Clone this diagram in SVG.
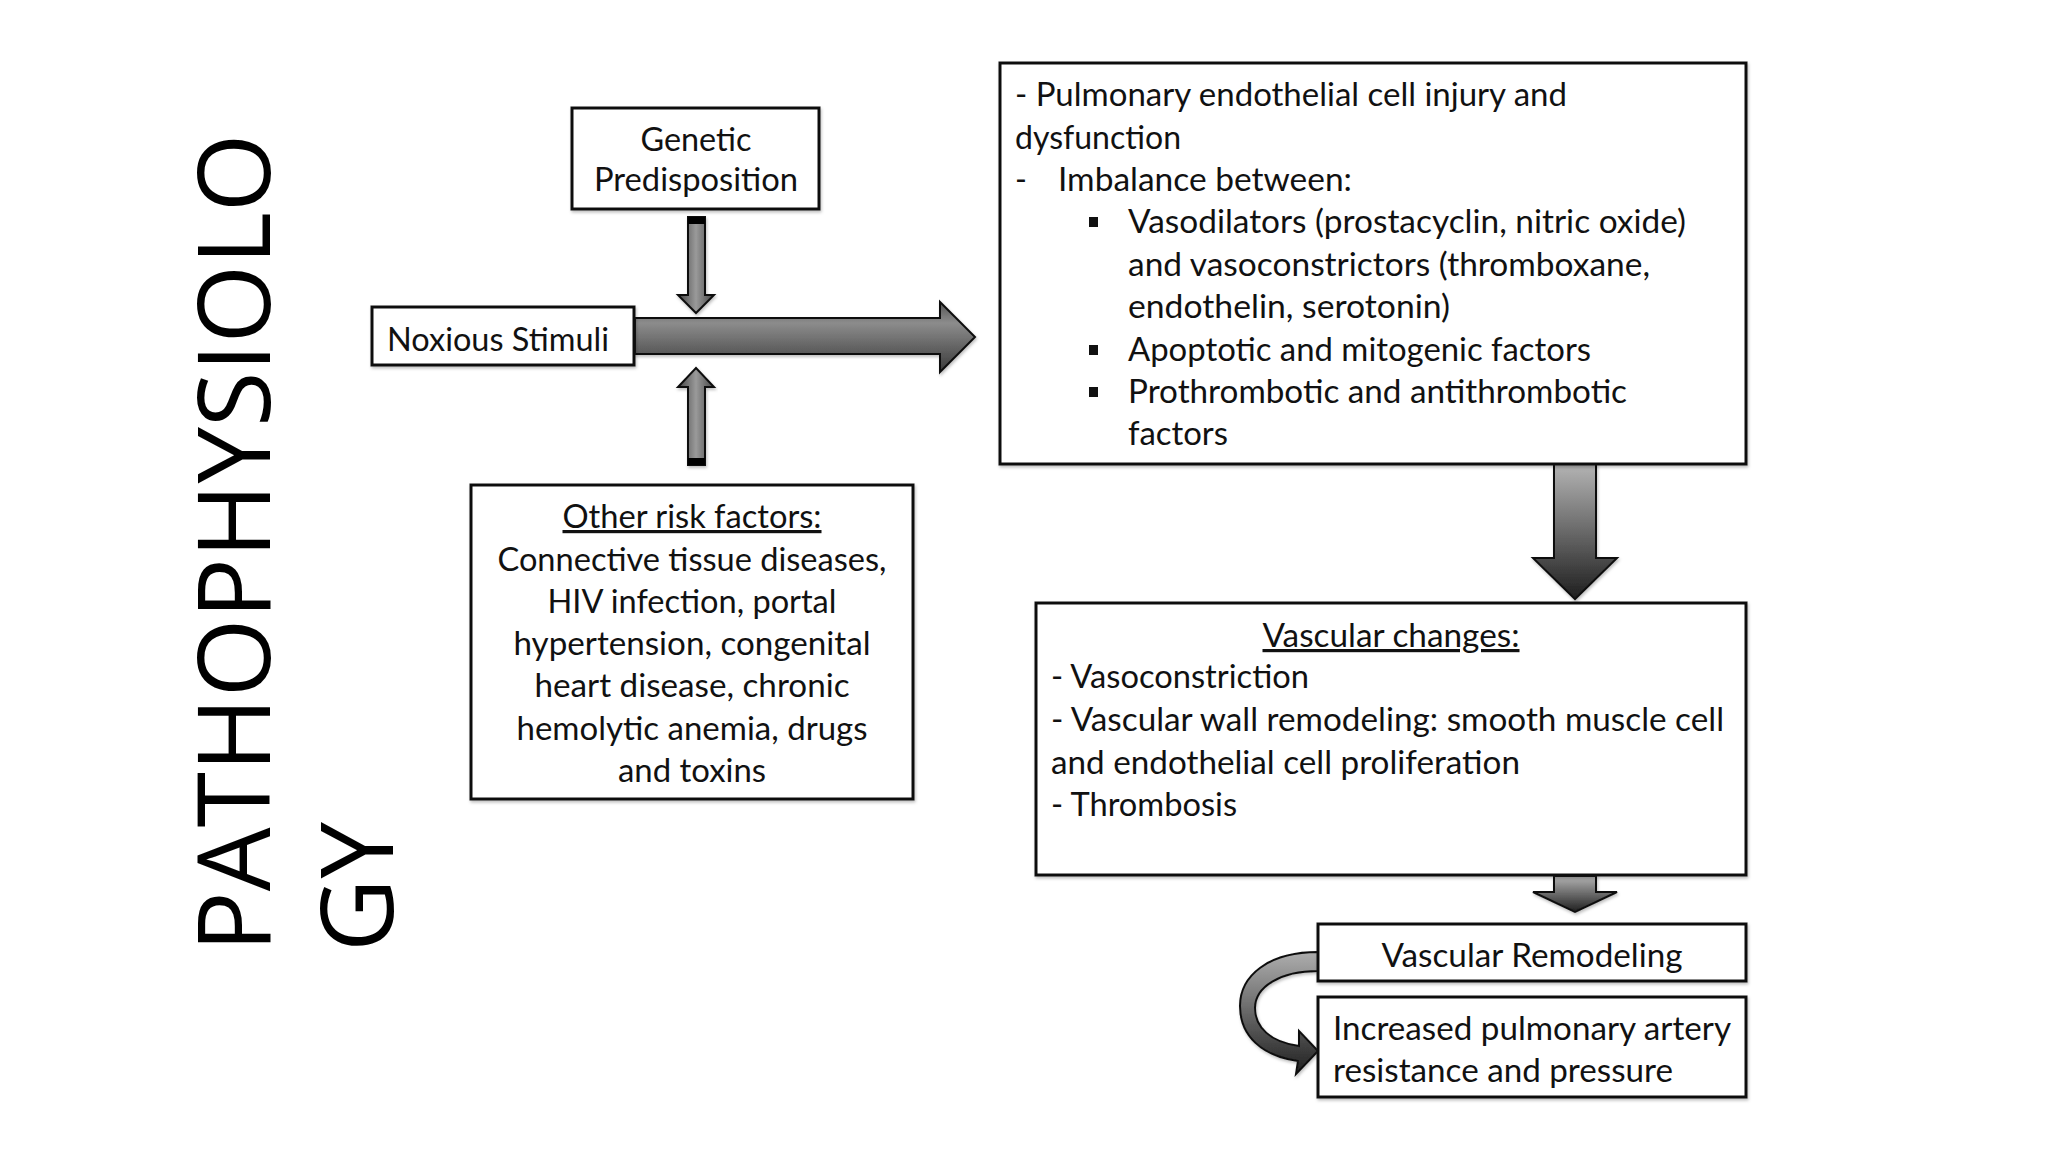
<svg xmlns="http://www.w3.org/2000/svg" width="2048" height="1152" viewBox="0 0 2048 1152">
<defs>
<style>
.box{fill:#fff;stroke:#111;stroke-width:3;filter:url(#sh)}
.t{font-family:Lato,"Liberation Sans",sans-serif;font-size:32px;fill:#111}
.c{text-anchor:middle}
.title{font-family:"Open Sans","DejaVu Sans",sans-serif;font-size:101px;fill:#000}
.arr{stroke:#111;stroke-width:2;filter:url(#sh)}
</style>
<filter id="sh" x="-10%" y="-10%" width="120%" height="130%">
<feDropShadow dx="1" dy="2" stdDeviation="1.5" flood-color="#000" flood-opacity="0.25"/>
</filter>
<linearGradient id="gH" x1="0" y1="0" x2="0" y2="1">
<stop offset="0" stop-color="#555"/>
<stop offset="0.3" stop-color="#8c8c8c"/>
<stop offset="1" stop-color="#3a3a3a"/>
</linearGradient>
<linearGradient id="gV" x1="0" y1="0" x2="1" y2="0">
<stop offset="0" stop-color="#444"/>
<stop offset="0.5" stop-color="#9a9a9a"/>
<stop offset="1" stop-color="#444"/>
</linearGradient>
<linearGradient id="gD" x1="0" y1="0" x2="0" y2="1">
<stop offset="0" stop-color="#b4b4b4"/>
<stop offset="1" stop-color="#1e1e1e"/>
</linearGradient>
<linearGradient id="gC" gradientUnits="userSpaceOnUse" x1="0" y1="950" x2="0" y2="1075">
<stop offset="0" stop-color="#b0b0b0"/>
<stop offset="1" stop-color="#1e1e1e"/>
</linearGradient>
</defs>
<rect width="2048" height="1152" fill="#fff"/>

<g id="title">
<text class="title" transform="translate(270,952) rotate(-90)">PATHOPHYSIOLO</text>
<text class="title" transform="translate(393,952) rotate(-90)">GY</text>
</g>

<g id="connectors">
<path class="arr" fill="url(#gH)" d="M635,318 H940 V302 L975,337 L940,372 V354 H635 Z"/>
<path class="arr" fill="url(#gV)" d="M688,217 H705 V295 H714 L696,313 L678,295 H688 Z"/>
<rect x="688" y="217" width="17" height="7" fill="#000"/>
<path class="arr" fill="url(#gV)" d="M688,465 H705 V387 H714 L696,368 L678,387 H688 Z"/>
<rect x="688" y="458" width="17" height="7" fill="#000"/>
<path class="arr" fill="url(#gD)" d="M1554,464 H1596 V558 H1617 L1575,599 L1533,558 H1554 Z"/>
<path class="arr" fill="url(#gD)" d="M1554,876 H1596 V892 H1617 L1575,912 L1533,892 H1554 Z"/>
<path class="arr" fill="url(#gC)" d="M1318,952 C1268,952 1240,976 1240,1006 C1240,1036 1262,1056 1298,1061 L1296,1074 L1318,1051 L1299,1031 L1299,1046 C1270,1042 1255,1027 1255,1008 C1255,987 1280,971 1318,971 Z"/>
</g>

<g id="genetic">
<rect class="box" x="572" y="108" width="247" height="101"/>
<text class="t c" x="696" y="151" textLength="111" lengthAdjust="spacingAndGlyphs">Genetic</text>
<text class="t c" x="696" y="191" textLength="204" lengthAdjust="spacingAndGlyphs">Predisposition</text>
</g>

<g id="noxious">
<rect class="box" x="372" y="307" width="262" height="58"/>
<text class="t" x="387" y="351" textLength="222" lengthAdjust="spacingAndGlyphs">Noxious Stimuli</text>
</g>

<g id="risk">
<rect class="box" x="471" y="485" width="442" height="314"/>
<text class="t c" x="692" y="528" textLength="259" lengthAdjust="spacingAndGlyphs" text-decoration="underline">Other risk factors:</text>
<text class="t c" x="692" y="571" textLength="389" lengthAdjust="spacingAndGlyphs">Connective tissue diseases,</text>
<text class="t c" x="692" y="613" textLength="289" lengthAdjust="spacingAndGlyphs">HIV infection, portal</text>
<text class="t c" x="692" y="655" textLength="357" lengthAdjust="spacingAndGlyphs">hypertension, congenital</text>
<text class="t c" x="692" y="697" textLength="315" lengthAdjust="spacingAndGlyphs">heart disease, chronic</text>
<text class="t c" x="692" y="740" textLength="351" lengthAdjust="spacingAndGlyphs">hemolytic anemia, drugs</text>
<text class="t c" x="692" y="782" textLength="148" lengthAdjust="spacingAndGlyphs">and toxins</text>
</g>

<g id="injury">
<rect class="box" x="1000" y="63" width="746" height="401"/>
<text class="t" x="1015" y="106" textLength="552" lengthAdjust="spacingAndGlyphs">- Pulmonary endothelial cell injury and</text>
<text class="t" x="1015" y="149" textLength="166" lengthAdjust="spacingAndGlyphs">dysfunction</text>
<text class="t" x="1015" y="191">-</text>
<text class="t" x="1058" y="191" textLength="294" lengthAdjust="spacingAndGlyphs">Imbalance between:</text>
<rect x="1089" y="217" width="9" height="10" fill="#111"/>
<text class="t" x="1128" y="233" textLength="558" lengthAdjust="spacingAndGlyphs">Vasodilators (prostacyclin, nitric oxide)</text>
<text class="t" x="1128" y="276" textLength="522" lengthAdjust="spacingAndGlyphs">and vasoconstrictors (thromboxane,</text>
<text class="t" x="1128" y="318" textLength="322" lengthAdjust="spacingAndGlyphs">endothelin, serotonin)</text>
<rect x="1089" y="345" width="9" height="10" fill="#111"/>
<text class="t" x="1128" y="361" textLength="463" lengthAdjust="spacingAndGlyphs">Apoptotic and mitogenic factors</text>
<rect x="1089" y="387" width="9" height="10" fill="#111"/>
<text class="t" x="1128" y="403" textLength="499" lengthAdjust="spacingAndGlyphs">Prothrombotic and antithrombotic</text>
<text class="t" x="1128" y="445" textLength="100" lengthAdjust="spacingAndGlyphs">factors</text>
</g>

<g id="vascular-changes">
<rect class="box" x="1036" y="603" width="710" height="272"/>
<text class="t c" x="1391" y="647" textLength="257" lengthAdjust="spacingAndGlyphs" text-decoration="underline">Vascular changes:</text>
<text class="t" x="1051" y="688" textLength="258" lengthAdjust="spacingAndGlyphs">- Vasoconstriction</text>
<text class="t" x="1051" y="731" textLength="673" lengthAdjust="spacingAndGlyphs">- Vascular wall remodeling: smooth muscle cell</text>
<text class="t" x="1051" y="774" textLength="469" lengthAdjust="spacingAndGlyphs">and endothelial cell proliferation</text>
<text class="t" x="1051" y="816" textLength="186" lengthAdjust="spacingAndGlyphs">- Thrombosis</text>
</g>

<g id="remodeling">
<rect class="box" x="1318" y="924" width="428" height="57"/>
<text class="t c" x="1532" y="967" textLength="301" lengthAdjust="spacingAndGlyphs">Vascular Remodeling</text>
</g>

<g id="increased">
<rect class="box" x="1318" y="997" width="428" height="100"/>
<text class="t" x="1333" y="1040" textLength="398" lengthAdjust="spacingAndGlyphs">Increased pulmonary artery</text>
<text class="t" x="1333" y="1082" textLength="340" lengthAdjust="spacingAndGlyphs">resistance and pressure</text>
</g>
</svg>
